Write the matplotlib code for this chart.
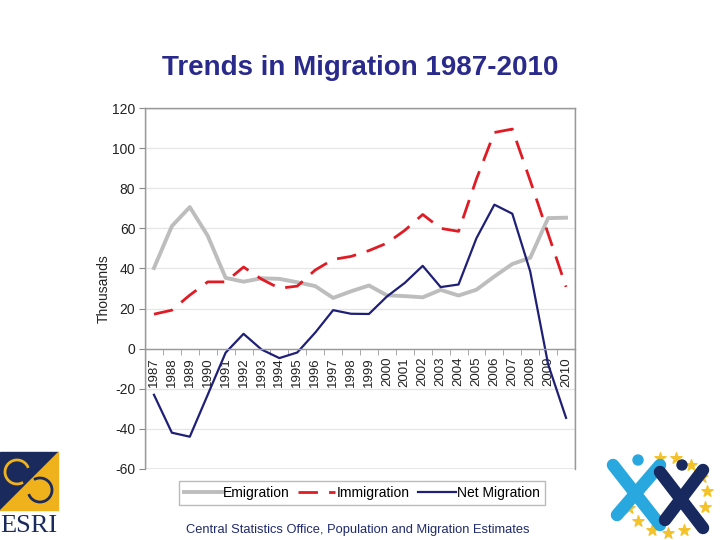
import numpy as np
import matplotlib
matplotlib.use("Agg")
import matplotlib.pyplot as plt
from matplotlib.patches import Polygon, Rectangle, Circle, Arc
from matplotlib.ticker import FixedLocator

years = [str(y) for y in range(1987, 2011)]
emigration = [40.2, 61.1, 70.6, 56.3, 35.3, 33.4, 35.1, 34.8, 33.1, 31.2, 25.3, 28.6,
              31.5, 26.6, 26.2, 25.6, 29.3, 26.5, 29.4, 36.0, 42.2, 45.3, 65.1, 65.3]
immigration = [17.2, 19.2, 26.7, 33.3, 33.3, 40.7, 34.7, 30.1, 31.2, 39.2, 44.5, 46.0,
               48.9, 52.6, 59.0, 66.9, 60.0, 58.5, 84.6, 107.8, 109.5, 83.8, 57.3, 30.8]
net_migration = [-23.0, -41.9, -43.9, -23.0, -2.0, 7.4, -0.4, -4.7, -1.9, 8.0, 19.2, 17.4,
                 17.3, 26.0, 32.8, 41.3, 30.7, 32.0, 55.1, 71.8, 67.3, 38.5, -7.8, -34.5]
y_ticks = [-60, -40, -20, 0, 20, 40, 60, 80, 100, 120]

plt.rcParams['font.family'] = ['Liberation Sans', 'DejaVu Sans']
plt.rcParams['axes.unicode_minus'] = False

fig = plt.figure(figsize=(7.2, 5.4), dpi=100, facecolor='white')
ax = fig.add_axes([145/720, 1 - 469/540, 430/720, 361/540])

x = np.arange(len(years))
ax.plot(x, emigration, color='#bdbdbd', lw=2.8, label='Emigration', solid_joinstyle='round')
ax.plot(x, immigration, color='#e01b24', lw=2.0, dashes=(7, 4), label='Immigration')
ax.plot(x, net_migration, color='#1f1f78', lw=1.6, label='Net Migration')

ax.set_xlim(-0.5, len(years) - 0.5)
ax.set_ylim(-60, 120)
ax.set_yticks(y_ticks)
ax.yaxis.grid(True, color='#e6e6e6', lw=0.9)
ax.set_axisbelow(True)
ax.tick_params(axis='y', labelsize=10, length=4, color='#888888', labelcolor='#222222', pad=3)
ax.set_ylabel('Thousands', fontsize=10, color='#222222', labelpad=1)

# x axis sits on the zero line
ax.spines['bottom'].set_position(('data', 0))
for s in ax.spines.values():
    s.set_color('#999999')
    s.set_linewidth(1.0)
ax.add_patch(Rectangle((0, 0), 1, 1, transform=ax.transAxes, fill=False,
                       edgecolor='#999999', lw=1.0, zorder=5))
ax.set_xticks(x)
ax.set_xticklabels(years, rotation=90, fontsize=9.5, color='#222222')
ax.xaxis.set_minor_locator(FixedLocator(np.arange(-0.5, len(years), 1)))
ax.tick_params(axis='x', which='major', length=0, pad=6)
ax.tick_params(axis='x', which='minor', length=4, color='#999999')

fig.text(0.5, 1 - 68/540, 'Trends in Migration 1987-2010', ha='center', va='center',
         fontsize=20, fontweight='bold', color='#2a2a8c')

leg = fig.legend(loc='center', bbox_to_anchor=(362/720, 1 - 493/540), ncol=3,
                 fontsize=10, frameon=True, fancybox=False, handlelength=2.7,
                 handletextpad=0.1, columnspacing=0.6, borderpad=0.35)
leg.get_frame().set_edgecolor('#aaaaaa')
leg.get_frame().set_linewidth(1.0)

fig.text(358/720, 1 - 530/540, 'Central Statistics Office, Population and Migration Estimates',
         ha='center', va='center', fontsize=9.3, color='#1f2a6e')

# ESRI logo (bottom left)
logo = fig.add_axes([0, 0, 60/720, 92/540])
logo.set_xlim(0, 60)
logo.set_ylim(0, 92)
logo.axis('off')
logo.add_patch(Polygon([[0, 30], [0, 88], [58, 88]], color='#1b2a5c'))
logo.add_patch(Polygon([[0, 30], [58, 30], [58, 88]], color='#f0b21c'))
logo.add_patch(Arc((17, 68), 24, 24, theta1=20, theta2=300, color='#f0b21c', lw=2))
logo.add_patch(Arc((40, 50), 24, 24, theta1=200, theta2=120, color='#1b2a5c', lw=2))
logo.text(29, 14, 'ESRI', ha='center', va='center', fontsize=19,
          family='Liberation Serif', color='#1b2a5c')

# right logo: stars and figures
badge = fig.add_axes([605/720, 0, 115/720, 90/540])
badge.set_xlim(0, 115)
badge.set_ylim(0, 90)
badge.axis('off')
ang = np.linspace(100, -160, 12)
badge.scatter(62 + 40 * np.cos(np.radians(ang)), 45 + 38 * np.sin(np.radians(ang)),
              marker='*', s=70, color='#f4c22b', zorder=1)
badge.plot([8, 55], [75, 15], color='#29a8df', lw=9, solid_capstyle='round', zorder=2)
badge.plot([55, 12], [75, 25], color='#29a8df', lw=9, solid_capstyle='round', zorder=2)
badge.add_patch(Circle((33, 80), 5, color='#29a8df', zorder=2))
badge.plot([55, 98], [68, 12], color='#17295e', lw=9, solid_capstyle='round', zorder=3)
badge.plot([98, 60], [70, 20], color='#17295e', lw=9, solid_capstyle='round', zorder=3)
badge.add_patch(Circle((77, 75), 5, color='#17295e', zorder=3))

fig.savefig('out.png', dpi=100, facecolor='white')
